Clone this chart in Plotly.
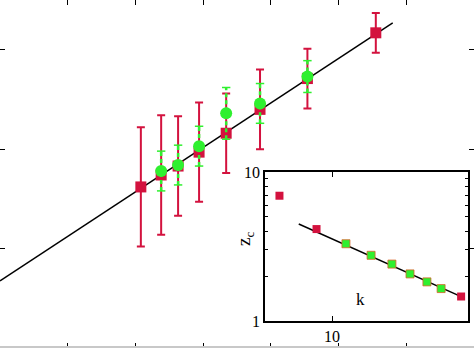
import plotly.graph_objects as go

# ---- main panel data ----
x_main = [2.08, 2.38, 2.63, 2.94, 3.34, 3.84, 4.54, 5.55]
y_red = [1.62, 1.74, 1.83, 1.97, 2.16, 2.40, 2.71, 3.17]
err_red = [0.60, 0.60, 0.50, 0.50, 0.40, 0.40, 0.30, 0.20]
x_green = [2.38, 2.63, 2.94, 3.34, 3.84, 4.54]
y_green = [1.78, 1.84, 2.03, 2.36, 2.46, 2.73]
err_green = [0.20, 0.20, 0.20, 0.26, 0.20, 0.16]
fit_x = [0.0, 5.80]
fit_y = [0.674, 3.27]
main_xticks = [1, 2, 3, 4, 5, 6]
main_yticks = [1, 2, 3]

# ---- inset data ----
k_red = [4.7, 8.0, 63.7]
zc_red = [6.93, 4.14, 1.46]
k_green = [12.2, 17.5, 23.6, 30.6, 39.0, 47.8]
zc_green = [3.30, 2.76, 2.41, 2.07, 1.83, 1.65]
inset_fit_k = [6.2, 62.7]
inset_fit_z = [4.48, 1.47]

RED = "#d3123e"
GREEN = "#2ff02f"
FONT = "Liberation Serif"

fig = go.Figure()

# main fit line
fig.add_trace(go.Scatter(x=fit_x, y=fit_y, mode="lines",
                         line=dict(color="black", width=1.5), hoverinfo="skip"))
# red squares with error bars
fig.add_trace(go.Scatter(x=x_main, y=y_red, mode="markers",
                         marker=dict(symbol="square", size=11, color=RED),
                         error_y=dict(type="data", array=err_red, color=RED,
                                      thickness=2, width=4)))
# green dashed error bars built from data
gx, gy, cx, cy = [], [], [], []
for xv, yv, ev in zip(x_green, y_green, err_green):
    gx += [xv, xv, None]
    gy += [yv - ev, yv + ev, None]
    cx += [xv, xv]
    cy += [yv - ev, yv + ev]
fig.add_trace(go.Scatter(x=gx, y=gy, mode="lines",
                         line=dict(color=GREEN, width=2.5, dash="4px,3px"),
                         hoverinfo="skip"))
fig.add_trace(go.Scatter(x=cx, y=cy, mode="markers",
                         marker=dict(symbol="line-ew", size=6,
                                     line=dict(color=GREEN, width=1.5)),
                         hoverinfo="skip"))
fig.add_trace(go.Scatter(x=x_green, y=y_green, mode="markers",
                         marker=dict(symbol="circle", size=12, color=GREEN)))

# inset
fig.add_trace(go.Scatter(x=inset_fit_k, y=inset_fit_z, mode="lines",
                         line=dict(color="black", width=1.5),
                         xaxis="x2", yaxis="y2", hoverinfo="skip"))
fig.add_trace(go.Scatter(x=k_red, y=zc_red, mode="markers",
                         marker=dict(symbol="square", size=8, color=RED),
                         xaxis="x2", yaxis="y2"))
fig.add_trace(go.Scatter(x=k_green, y=zc_green, mode="markers",
                         marker=dict(symbol="square", size=8, color=GREEN,
                                     line=dict(color="#d8642a", width=0.8)),
                         xaxis="x2", yaxis="y2"))

W, H = 474, 348
ix0, ix1 = 265 / W, 468 / W
iy0, iy1 = 1 - 321 / H, 1 - 172 / H

fig.update_layout(
    width=W, height=H,
    margin=dict(l=0, r=0, t=0, b=0, pad=0, autoexpand=False),
    paper_bgcolor="white", plot_bgcolor="white",
    showlegend=False,
    font=dict(family=FONT, size=15, color="black"),
    xaxis=dict(range=[0, 7], tickvals=main_xticks, ticks="inside", ticklen=5,
               tickcolor="black", mirror="ticks", showticklabels=False,
               showgrid=False, zeroline=False, showline=False, automargin=False),
    yaxis=dict(range=[0, 3.5], tickvals=main_yticks, ticks="inside", ticklen=5,
               tickcolor="black", mirror="ticks", showticklabels=False,
               showgrid=False, zeroline=False, showline=False, automargin=False),
    xaxis2=dict(type="log", domain=[ix0, ix1], anchor="y2",
                range=[0.582, 1.847], tickvals=[10], ticktext=["10"],
                ticks="inside", ticklen=5, tickcolor="black",
                mirror="ticks", showline=True, linecolor="black", linewidth=1.5,
                showgrid=False, zeroline=False, automargin=False,
                tickfont=dict(family=FONT, size=16)),
    yaxis2=dict(type="log", domain=[iy0, iy1], anchor="x2",
                range=[0, 1], tickvals=[1, 10], ticktext=["1", "10"],
                ticks="inside", ticklen=5, tickcolor="black",
                mirror="ticks", showline=True, linecolor="black", linewidth=1.5,
                showgrid=False, zeroline=False, automargin=False,
                minor=dict(tickvals=[2, 3, 4, 5, 6, 7, 8, 9], ticks="inside",
                           ticklen=3, tickcolor="black"),
                tickfont=dict(family=FONT, size=16)),
    shapes=[dict(type="line", xref="paper", yref="paper", x0=0, x1=1, y0=0, y1=0,
                 line=dict(color="#c8c8c8", width=4))],
    annotations=[
        dict(text="k", xref="paper", yref="paper", x=367 / W, y=1 - 311 / H,
             showarrow=False, font=dict(family=FONT, size=17)),
        dict(text="z<sub>c</sub>", xref="paper", yref="paper", x=245 / W,
             y=1 - 248 / H, showarrow=False, textangle=-90,
             font=dict(family=FONT, size=19)),
    ],
)

fig.write_html("out.html")
